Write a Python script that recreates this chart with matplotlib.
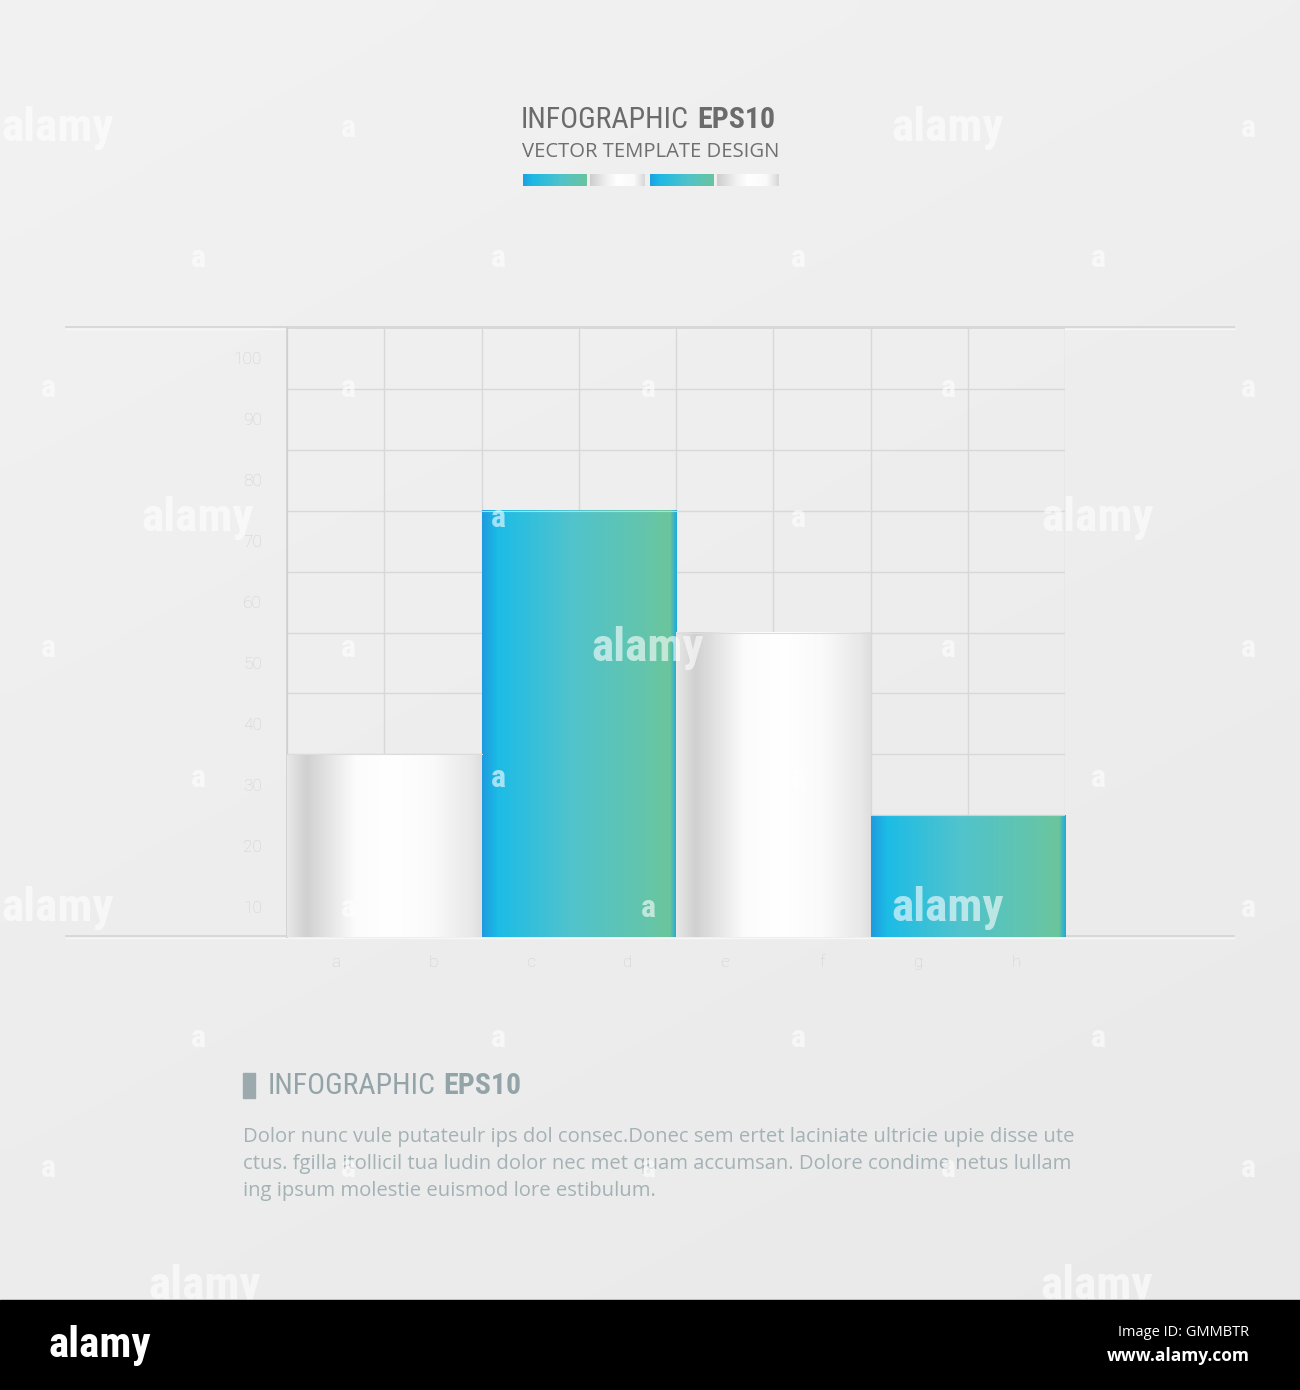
import numpy as np
import matplotlib
matplotlib.use("Agg")
import matplotlib.pyplot as plt
from matplotlib.patches import Rectangle

# ---------------- data ----------------
categories = ['a', 'b', 'c', 'd', 'e', 'f', 'g', 'h']
bar_positions = [0.5, 2.5, 4.5, 6.5]          # each bar spans two categories
bar_values = [35, 75, 55, 25]
bar_styles = ['white', 'blue', 'white', 'blue']
y_ticks = [10, 20, 30, 40, 50, 60, 70, 80, 90, 100]
y_range = (5, 105)

title_main = "INFOGRAPHIC"
title_bold = "EPS10"
subtitle = "VECTOR TEMPLATE DESIGN"
para_lines = [
    "Dolor nunc vule putateulr ips dol consec.Donec sem ertet laciniate ultricie upie disse ute",
    "ctus. fgilla itollicil tua ludin dolor nec met quam accumsan. Dolore condime netus lullam",
    "ing ipsum molestie euismod lore estibulum.",
]

W, H = 1300, 1390
NARROW = ['Roboto Condensed', 'Open Sans Condensed', 'Liberation Sans Narrow',
          'Liberation Sans', 'DejaVu Sans']
SANS = ['Open Sans', 'DejaVu Sans']

BLUE_STOPS = [(0.0, (30, 155, 222)), (0.08, (28, 188, 230)), (0.45, (80, 195, 205)),
              (0.85, (100, 197, 170)), (0.965, (108, 198, 155)), (1.0, (30, 170, 220))]
WHITE_STOPS = [(0.0, (232,) * 3), (0.04, (222,) * 3), (0.1, (208,) * 3), (0.2, (226,) * 3),
               (0.35, (252,) * 3), (0.55, (255,) * 3), (0.75, (250,) * 3),
               (0.85, (241,) * 3), (0.95, (232,) * 3), (1.0, (222,) * 3)]
SMALL_BLUE = [(0.0, (28, 160, 225)), (0.15, (30, 185, 228)), (0.6, (80, 195, 200)), (1.0, (104, 196, 160))]
SMALL_WHITE = [(0.0, (205,) * 3), (0.3, (240,) * 3), (0.5, (255,) * 3), (0.8, (250,) * 3), (1.0, (215,) * 3)]


def gradient(stops, n=256):
    x = np.linspace(0, 1, n)
    pos = [s[0] for s in stops]
    cols = np.array([s[1] for s in stops], dtype=float) / 255.0
    img = np.stack([np.interp(x, pos, cols[:, c]) for c in range(3)], axis=-1)
    return img[np.newaxis, :, :]


fig = plt.figure(figsize=(W / 100, H / 100), dpi=100)

# ---------------- background layer ----------------
bg = fig.add_axes([0, 0, 1, 1])
bg.set_xlim(0, W)
bg.set_ylim(H, 0)
bg.axis('off')
gy, gx = np.mgrid[0:1:60j, 0:1:60j]
bgval = (242 - 6 * gy - 3 * gx) / 255.0
bg.imshow(np.dstack([bgval] * 3), extent=[0, W, H, 0], aspect='auto', zorder=0, interpolation='bicubic')

# wide horizontal rules of the chart frame
for yy in (328, 937):
    bg.plot([65, 1235], [yy - 1, yy - 1], color='#d6d6d6', lw=1.3, zorder=2, solid_capstyle='butt')
    bg.plot([65, 1235], [yy + 1, yy + 1], color='#f7f7f7', lw=1.0, zorder=2, solid_capstyle='butt')

# title
bg.text(689, 120, title_main, ha='right', va='center', fontsize=21.5, color='#6b6b6b',
        family=NARROW)
bg.text(697, 120, title_bold, ha='left', va='center', fontsize=21.5, color='#6b6b6b',
        family=NARROW, fontweight='bold')
bg.text(651, 152, subtitle, ha='center', va='center', fontsize=14.6, color='#6f6f6f',
        family=SANS)
for (x0, x1), st in zip([(523, 587), (590, 645), (650, 714), (717, 779)],
                        [SMALL_BLUE, SMALL_WHITE, SMALL_BLUE, SMALL_WHITE]):
    bg.imshow(gradient(st), extent=[x0, x1, 186, 174], aspect='auto', zorder=2)

# lower text block
bg.add_patch(Rectangle((243, 1073), 12, 25, color='#9daaad', zorder=2))
bg.text(268, 1086, title_main, ha='left', va='center', fontsize=21.5, color='#93a4a8', family=NARROW)
bg.text(443, 1086, title_bold, ha='left', va='center', fontsize=21.5, color='#93a4a8',
        family=NARROW, fontweight='bold')
for i, line in enumerate(para_lines):
    bg.text(243, 1137 + 27 * i, line, ha='left', va='center', fontsize=14.6, color='#a4b2b5',
            family=SANS)

# ---------------- chart ----------------
ax = fig.add_axes([287 / W, 1 - 937 / H, (1065 - 287) / W, (937 - 328) / H])
ax.patch.set_visible(False)
bars = ax.bar(bar_positions, [v - y_range[0] for v in bar_values], width=2,
              bottom=y_range[0], color='none', edgecolor='none', zorder=3)
for b, style in zip(bars, bar_styles):
    x0, y0 = b.get_x(), b.get_y()
    x1, y1 = x0 + b.get_width(), y0 + b.get_height()
    st = BLUE_STOPS if style == 'blue' else WHITE_STOPS
    ax.imshow(gradient(st), extent=[x0, x1, y0, y1], aspect='auto', zorder=3,
              interpolation='bilinear')
    edge = '#b9d7e6' if style == 'blue' else '#dcdcdc'
    ax.plot([x0, x1], [y1, y1], color=edge, lw=0.8, zorder=4)

ax.set_xlim(-0.5, len(categories) - 0.5)
ax.set_ylim(*y_range)
ax.set_xticks(range(len(categories)))
ax.set_xticklabels(categories)
ax.set_yticks(y_ticks)
ax.set_yticklabels([str(t) for t in y_ticks])
ax.set_xticks(np.arange(-0.5, len(categories), 1.0), minor=True)
ax.set_yticks(np.arange(y_range[0], y_range[1] + 1, 10), minor=True)
ax.grid(which='minor', color='#d8d8d8', lw=1.0)
ax.grid(which='major', visible=False)
ax.set_axisbelow(True)
ax.tick_params(which='both', length=0)
ax.tick_params(axis='y', pad=18, labelsize=12.5, labelcolor='#d0d0d0')
ax.tick_params(axis='x', pad=13, labelsize=12.5, labelcolor='#d0d0d0')
for lab in ax.get_xticklabels() + ax.get_yticklabels():
    lab.set_family(['Roboto', 'DejaVu Sans'])
    lab.set_fontweight('light')
for s in ('top', 'right', 'bottom'):
    ax.spines[s].set_visible(False)
ax.spines['left'].set_color('#cfcfcf')
ax.spines['left'].set_linewidth(1.2)

# ---------------- overlay (watermarks + footer) ----------------
ov = fig.add_axes([0, 0, 1, 1])
ov.set_xlim(0, W)
ov.set_ylim(H, 0)
ov.axis('off')
ov.patch.set_visible(False)

big_marks = {(48, 908), (198, 518), (1098, 518), (648, 648), (948, 908), (48, 128), (948, 128)}
for r, yy in enumerate(range(128, 1290, 130)):
    xs = range(48, 1300, 300) if r % 2 == 0 else range(198, 1300, 300)
    for xx in xs:
        if (xx, yy) in big_marks:
            ov.text(max(xx, 58), yy, 'alamy', ha='center', va='center', fontsize=34, color='white',
                    alpha=0.6, family=NARROW, fontweight='bold')
        elif (xx, yy) != (648, 128):
            ov.text(xx, yy, 'a', ha='center', va='center', fontsize=23, color='white',
                    alpha=0.6, family=NARROW, fontweight='bold')
for xx in (205, 1097):
    ov.text(xx, 1286, 'alamy', ha='center', va='center', fontsize=34, color='white',
            alpha=0.6, family=NARROW, fontweight='bold')

ov.add_patch(Rectangle((0, 1300), W, 90, color='black', zorder=5))
ov.text(49, 1345, 'alamy', ha='left', va='center', fontsize=31, color='white',
        family=NARROW, fontweight='bold', zorder=6)
ov.text(1249, 1332, 'Image ID: GMMBTR', ha='right', va='center', fontsize=10.5, color='white',
        family=SANS, zorder=6)
ov.text(1250, 1356, 'www.alamy.com', ha='right', va='center', fontsize=12.5, color='white',
        family=SANS, fontweight='bold', zorder=6)

fig.savefig('out.png', dpi=100)
